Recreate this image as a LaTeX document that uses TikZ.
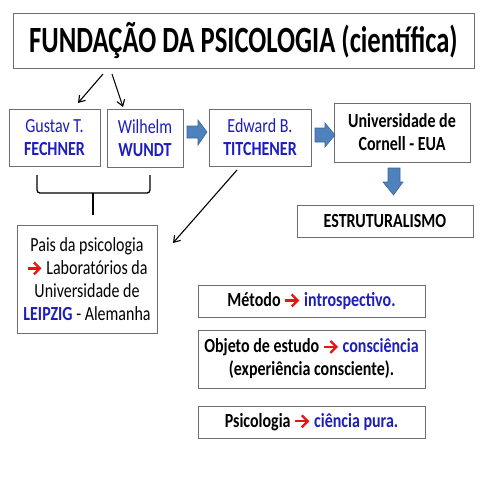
\documentclass[tikz,border=0pt]{standalone}
\usepackage{fontspec}
\setmainfont{Carlito}[FakeStretch=0.8]
\newfontfamily\titlefont{Carlito}[FakeStretch=0.72]
\usetikzlibrary{arrows.meta}
\definecolor{txtblue}{RGB}{30,30,190}
\definecolor{boxgray}{RGB}{110,110,110}
\definecolor{arrfill}{RGB}{79,129,189}
\definecolor{arrdraw}{RGB}{60,100,150}
\definecolor{redarr}{RGB}{230,20,20}
\newcommand{\ra}{\tikz[baseline=-6pt]\draw[redarr, line width=2.3pt, -{Straight Barb[length=6pt,width=12pt,line width=2.3pt]}] (0pt,0pt) -- (14pt,0pt);}
\tikzset{
  box/.style={draw=boxgray, line width=0.8pt, fill=white, inner sep=0pt, align=center, font=\fontsize{20}{23}\selectfont},
  boldbox/.style={box, font=\fontsize{20}{23}\selectfont\bfseries},
  blockarr/.style={fill=arrfill, draw=arrdraw, line width=0.6pt},
  thinarr/.style={-{Straight Barb[length=6pt,width=8pt]}, line width=1.1pt, black},
}
\begin{document}
\begin{tikzpicture}[x=1pt,y=-1pt]
\useasboundingbox (0,0) rectangle (480,480);
\node[box, minimum width=461, minimum height=55, font=\titlefont\bfseries\fontsize{37}{40}\selectfont] (title) at (243.5,40.5) {FUNDAÇÃO DA PSICOLOGIA (científica)};
\node[box, minimum width=91, minimum height=57, text=txtblue] (fechner) at (54.5,137.5) {Gustav T.\\\textbf{FECHNER}};
\node[box, minimum width=76, minimum height=58, text=txtblue] (wundt) at (145,138) {Wilhelm\\\textbf{WUNDT}};
\node[box, minimum width=102, minimum height=57, text=txtblue] (titch) at (260,137.5) {Edward B.\\\textbf{TITCHENER}};
\node[boldbox, minimum width=136, minimum height=59] (cornell) at (402,132.5) {Universidade de\\Cornell - EUA};
\node[boldbox, minimum width=176, minimum height=32] (estrut) at (385,221) {ESTRUTURALISMO};
\node[box, minimum width=140, minimum height=108] (pais) at (87,279) {Pais da psicologia\\\ra{} Laboratórios da\\Universidade de\\{\color{txtblue}\bfseries LEIPZIG} - Alemanha};
\node[boldbox, minimum width=227, minimum height=32] (metodo) at (311.5,301) {Método \ra{} {\color{txtblue}introspectivo.}};
\node[boldbox, minimum width=227, minimum height=58] (objeto) at (311.5,359) {Objeto de estudo \ra{} {\color{txtblue}consciência}\\(experiência consciente).};
\node[boldbox, minimum width=227, minimum height=32] (psico) at (311.5,422) {Psicologia \ra{} {\color{txtblue}ciência pura.}};
% thin arrows
\coordinate (t1) at (103,74);
\coordinate (t2) at (112,74);
\draw[thinarr] (t1) -- (78,103);
\draw[thinarr] (t2) -- (123,107);
\coordinate (ts) at (237,170);
\draw[thinarr] (ts) -- (173,243);
% bracket
\draw[line width=1.3pt, rounded corners=3pt] (37,175) -- (37,193) -- (150,193) -- (150,175);
\draw[line width=1.3pt] (93,193) -- (93,215);
% block arrows
\draw[blockarr] (187,126) -- (198,126) -- (198,120) -- (207,132) -- (198,145) -- (198,138) -- (187,138) -- cycle;
\draw[blockarr] (315,128) -- (325,128) -- (325,123) -- (335,135) -- (325,147) -- (325,142) -- (315,142) -- cycle;
\draw[blockarr] (388,168) -- (400,168) -- (400,182) -- (403,182) -- (393.5,195) -- (383,182) -- (388,182) -- cycle;
\end{tikzpicture}
\end{document}
